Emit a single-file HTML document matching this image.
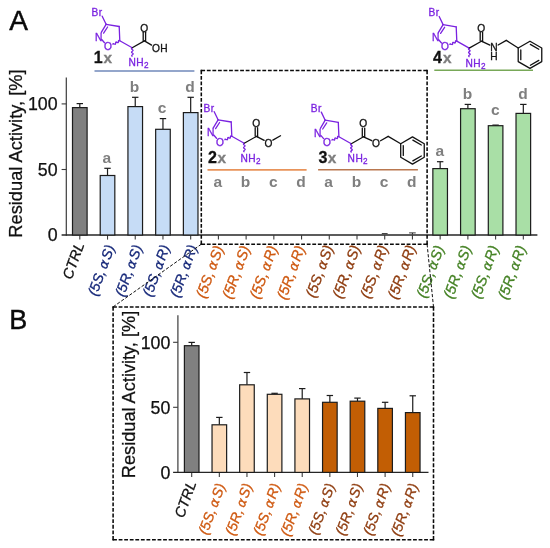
<!DOCTYPE html>
<html><head><meta charset="utf-8"><title>Figure</title>
<style>html,body{margin:0;padding:0;background:#fff}svg{display:block}text{font-family:'Liberation Sans', Arial, sans-serif}</style>
</head><body>
<svg width="550" height="548" viewBox="0 0 550 548" font-family='"Liberation Sans", Arial, sans-serif'>
<rect width="550" height="548" fill="#fff"/>
<line x1="66.30" y1="77.50" x2="66.30" y2="235.65" stroke="#3c3c3c" stroke-width="1.2" />
<line x1="61.60" y1="235.00" x2="537.40" y2="235.00" stroke="#262626" stroke-width="1.3" />
<line x1="61.60" y1="103.90" x2="66.40" y2="103.90" stroke="#3c3c3c" stroke-width="1.1" />
<line x1="61.60" y1="169.50" x2="66.40" y2="169.50" stroke="#3c3c3c" stroke-width="1.1" />
<line x1="79.80" y1="235.00" x2="79.80" y2="239.60" stroke="#3c3c3c" stroke-width="1.1" />
<line x1="107.52" y1="235.00" x2="107.52" y2="239.60" stroke="#3c3c3c" stroke-width="1.1" />
<line x1="135.24" y1="235.00" x2="135.24" y2="239.60" stroke="#3c3c3c" stroke-width="1.1" />
<line x1="162.96" y1="235.00" x2="162.96" y2="239.60" stroke="#3c3c3c" stroke-width="1.1" />
<line x1="190.68" y1="235.00" x2="190.68" y2="239.60" stroke="#3c3c3c" stroke-width="1.1" />
<line x1="218.40" y1="235.00" x2="218.40" y2="239.60" stroke="#3c3c3c" stroke-width="1.1" />
<line x1="246.12" y1="235.00" x2="246.12" y2="239.60" stroke="#3c3c3c" stroke-width="1.1" />
<line x1="273.84" y1="235.00" x2="273.84" y2="239.60" stroke="#3c3c3c" stroke-width="1.1" />
<line x1="301.56" y1="235.00" x2="301.56" y2="239.60" stroke="#3c3c3c" stroke-width="1.1" />
<line x1="329.28" y1="235.00" x2="329.28" y2="239.60" stroke="#3c3c3c" stroke-width="1.1" />
<line x1="357.00" y1="235.00" x2="357.00" y2="239.60" stroke="#3c3c3c" stroke-width="1.1" />
<line x1="384.72" y1="235.00" x2="384.72" y2="239.60" stroke="#3c3c3c" stroke-width="1.1" />
<line x1="412.44" y1="235.00" x2="412.44" y2="239.60" stroke="#3c3c3c" stroke-width="1.1" />
<line x1="440.16" y1="235.00" x2="440.16" y2="239.60" stroke="#3c3c3c" stroke-width="1.1" />
<line x1="467.88" y1="235.00" x2="467.88" y2="239.60" stroke="#3c3c3c" stroke-width="1.1" />
<line x1="495.60" y1="235.00" x2="495.60" y2="239.60" stroke="#3c3c3c" stroke-width="1.1" />
<line x1="523.32" y1="235.00" x2="523.32" y2="239.60" stroke="#3c3c3c" stroke-width="1.1" />
<text x="57.60" y="110.30" font-size="17.8" fill="#111" text-anchor="end" stroke="#111" stroke-width="0.25">100</text>
<text x="57.60" y="175.90" font-size="17.8" fill="#111" text-anchor="end" stroke="#111" stroke-width="0.25">50</text>
<text x="57.60" y="241.40" font-size="17.8" fill="#111" text-anchor="end" stroke="#111" stroke-width="0.25">0</text>
<text transform="translate(22.0,237.7) rotate(-90)" font-size="18.3" fill="#111" stroke="#111" stroke-width="0.25">Residual Activity, [%]</text>
<line x1="79.80" y1="103.60" x2="79.80" y2="107.60" stroke="#1c1c1c" stroke-width="1.2" />
<line x1="76.60" y1="103.60" x2="83.00" y2="103.60" stroke="#1c1c1c" stroke-width="1.2" />
<rect x="72.50" y="107.60" width="14.60" height="127.40" fill="#808080" stroke="#1c1c1c" stroke-width="1.2"/>
<line x1="107.52" y1="168.30" x2="107.52" y2="175.50" stroke="#1c1c1c" stroke-width="1.2" />
<line x1="104.32" y1="168.30" x2="110.72" y2="168.30" stroke="#1c1c1c" stroke-width="1.2" />
<rect x="100.22" y="175.50" width="14.60" height="59.50" fill="#c6dcf6" stroke="#1c1c1c" stroke-width="1.2"/>
<line x1="135.24" y1="97.30" x2="135.24" y2="106.60" stroke="#1c1c1c" stroke-width="1.2" />
<line x1="132.04" y1="97.30" x2="138.44" y2="97.30" stroke="#1c1c1c" stroke-width="1.2" />
<rect x="127.94" y="106.60" width="14.60" height="128.40" fill="#c6dcf6" stroke="#1c1c1c" stroke-width="1.2"/>
<line x1="162.96" y1="118.60" x2="162.96" y2="129.30" stroke="#1c1c1c" stroke-width="1.2" />
<line x1="159.76" y1="118.60" x2="166.16" y2="118.60" stroke="#1c1c1c" stroke-width="1.2" />
<rect x="155.66" y="129.30" width="14.60" height="105.70" fill="#c6dcf6" stroke="#1c1c1c" stroke-width="1.2"/>
<line x1="190.68" y1="97.30" x2="190.68" y2="112.60" stroke="#1c1c1c" stroke-width="1.2" />
<line x1="187.48" y1="97.30" x2="193.88" y2="97.30" stroke="#1c1c1c" stroke-width="1.2" />
<rect x="183.38" y="112.60" width="14.60" height="122.40" fill="#c6dcf6" stroke="#1c1c1c" stroke-width="1.2"/>
<line x1="440.16" y1="161.70" x2="440.16" y2="168.60" stroke="#1c1c1c" stroke-width="1.2" />
<line x1="436.96" y1="161.70" x2="443.36" y2="161.70" stroke="#1c1c1c" stroke-width="1.2" />
<rect x="432.86" y="168.60" width="14.60" height="66.40" fill="#a9dfa6" stroke="#1c1c1c" stroke-width="1.2"/>
<line x1="467.88" y1="104.40" x2="467.88" y2="108.70" stroke="#1c1c1c" stroke-width="1.2" />
<line x1="464.68" y1="104.40" x2="471.08" y2="104.40" stroke="#1c1c1c" stroke-width="1.2" />
<rect x="460.58" y="108.70" width="14.60" height="126.30" fill="#a9dfa6" stroke="#1c1c1c" stroke-width="1.2"/>
<line x1="495.60" y1="125.10" x2="495.60" y2="125.70" stroke="#1c1c1c" stroke-width="1.2" />
<line x1="492.40" y1="125.10" x2="498.80" y2="125.10" stroke="#1c1c1c" stroke-width="1.2" />
<rect x="488.30" y="125.70" width="14.60" height="109.30" fill="#a9dfa6" stroke="#1c1c1c" stroke-width="1.2"/>
<line x1="523.32" y1="104.40" x2="523.32" y2="113.40" stroke="#1c1c1c" stroke-width="1.2" />
<line x1="520.12" y1="104.40" x2="526.52" y2="104.40" stroke="#1c1c1c" stroke-width="1.2" />
<rect x="516.02" y="113.40" width="14.60" height="121.60" fill="#a9dfa6" stroke="#1c1c1c" stroke-width="1.2"/>
<line x1="381.82" y1="233.60" x2="387.62" y2="233.60" stroke="#1c1c1c" stroke-width="0.9" />
<line x1="409.14" y1="232.90" x2="415.74" y2="232.90" stroke="#1c1c1c" stroke-width="0.9" />
<line x1="412.44" y1="232.90" x2="412.44" y2="234.40" stroke="#1c1c1c" stroke-width="0.9" />
<text x="106.72" y="162.70" font-size="15.5" fill="#7f7f7f" text-anchor="middle" font-weight="bold" >a</text>
<text x="134.44" y="91.70" font-size="15.5" fill="#7f7f7f" text-anchor="middle" font-weight="bold" >b</text>
<text x="162.16" y="113.00" font-size="15.5" fill="#7f7f7f" text-anchor="middle" font-weight="bold" >c</text>
<text x="189.88" y="91.70" font-size="15.5" fill="#7f7f7f" text-anchor="middle" font-weight="bold" >d</text>
<text x="439.86" y="155.80" font-size="15.5" fill="#7f7f7f" text-anchor="middle" font-weight="bold" >a</text>
<text x="467.58" y="98.50" font-size="15.5" fill="#7f7f7f" text-anchor="middle" font-weight="bold" >b</text>
<text x="495.30" y="115.00" font-size="15.5" fill="#7f7f7f" text-anchor="middle" font-weight="bold" >c</text>
<text x="523.02" y="98.50" font-size="15.5" fill="#7f7f7f" text-anchor="middle" font-weight="bold" >d</text>
<text x="217.80" y="187.00" font-size="15.5" fill="#7f7f7f" text-anchor="middle" font-weight="bold" >a</text>
<text x="245.52" y="187.00" font-size="15.5" fill="#7f7f7f" text-anchor="middle" font-weight="bold" >b</text>
<text x="273.24" y="187.00" font-size="15.5" fill="#7f7f7f" text-anchor="middle" font-weight="bold" >c</text>
<text x="300.96" y="187.00" font-size="15.5" fill="#7f7f7f" text-anchor="middle" font-weight="bold" >d</text>
<text x="328.68" y="187.00" font-size="15.5" fill="#7f7f7f" text-anchor="middle" font-weight="bold" >a</text>
<text x="356.40" y="187.00" font-size="15.5" fill="#7f7f7f" text-anchor="middle" font-weight="bold" >b</text>
<text x="384.12" y="187.00" font-size="15.5" fill="#7f7f7f" text-anchor="middle" font-weight="bold" >c</text>
<text x="411.84" y="187.00" font-size="15.5" fill="#7f7f7f" text-anchor="middle" font-weight="bold" >d</text>
<text transform="translate(84.40,244.60) rotate(-70)" font-size="14.5" fill="#111" stroke="#111" stroke-width="0.3" text-anchor="end" font-style="italic">CTRL</text>
<text transform="translate(114.80,247.00) rotate(-70)" font-size="14.3" fill="#17297a" stroke="#17297a" stroke-width="0.3" text-anchor="end" font-style="italic">(5S, <tspan dx="-1.3" font-family="DejaVu Sans, sans-serif" font-size="12.9">α</tspan><tspan dx="1.3">S)</tspan></text>
<text transform="translate(142.30,247.00) rotate(-70)" font-size="14.3" fill="#17297a" stroke="#17297a" stroke-width="0.3" text-anchor="end" font-style="italic">(5R, <tspan dx="-1.3" font-family="DejaVu Sans, sans-serif" font-size="12.9">α</tspan><tspan dx="1.3">S)</tspan></text>
<text transform="translate(170.00,247.00) rotate(-70)" font-size="14.3" fill="#17297a" stroke="#17297a" stroke-width="0.3" text-anchor="end" font-style="italic">(5S, <tspan dx="-1.3" font-family="DejaVu Sans, sans-serif" font-size="12.9">α</tspan><tspan dx="1.3">R)</tspan></text>
<text transform="translate(197.50,247.00) rotate(-70)" font-size="14.3" fill="#17297a" stroke="#17297a" stroke-width="0.3" text-anchor="end" font-style="italic">(5R, <tspan dx="-1.3" font-family="DejaVu Sans, sans-serif" font-size="12.9">α</tspan><tspan dx="1.3">R)</tspan></text>
<text transform="translate(223.70,247.80) rotate(-70)" font-size="14.7" fill="#cf5a12" stroke="#cf5a12" stroke-width="0.3" text-anchor="end" font-style="italic">(5S, <tspan dx="-1.3" font-family="DejaVu Sans, sans-serif" font-size="13.2">α</tspan><tspan dx="1.3">S)</tspan></text>
<text transform="translate(250.20,247.80) rotate(-70)" font-size="14.7" fill="#cf5a12" stroke="#cf5a12" stroke-width="0.3" text-anchor="end" font-style="italic">(5R, <tspan dx="-1.3" font-family="DejaVu Sans, sans-serif" font-size="13.2">α</tspan><tspan dx="1.3">S)</tspan></text>
<text transform="translate(277.70,247.80) rotate(-70)" font-size="14.7" fill="#cf5a12" stroke="#cf5a12" stroke-width="0.3" text-anchor="end" font-style="italic">(5S, <tspan dx="-1.3" font-family="DejaVu Sans, sans-serif" font-size="13.2">α</tspan><tspan dx="1.3">R)</tspan></text>
<text transform="translate(305.10,247.80) rotate(-70)" font-size="14.7" fill="#cf5a12" stroke="#cf5a12" stroke-width="0.3" text-anchor="end" font-style="italic">(5R, <tspan dx="-1.3" font-family="DejaVu Sans, sans-serif" font-size="13.2">α</tspan><tspan dx="1.3">R)</tspan></text>
<text transform="translate(333.40,247.30) rotate(-70)" font-size="14.7" fill="#8f3d10" stroke="#8f3d10" stroke-width="0.3" text-anchor="end" font-style="italic">(5S, <tspan dx="-1.3" font-family="DejaVu Sans, sans-serif" font-size="13.2">α</tspan><tspan dx="1.3">S)</tspan></text>
<text transform="translate(360.50,247.30) rotate(-70)" font-size="14.7" fill="#8f3d10" stroke="#8f3d10" stroke-width="0.3" text-anchor="end" font-style="italic">(5R, <tspan dx="-1.3" font-family="DejaVu Sans, sans-serif" font-size="13.2">α</tspan><tspan dx="1.3">S)</tspan></text>
<text transform="translate(388.20,247.30) rotate(-70)" font-size="14.7" fill="#8f3d10" stroke="#8f3d10" stroke-width="0.3" text-anchor="end" font-style="italic">(5S, <tspan dx="-1.3" font-family="DejaVu Sans, sans-serif" font-size="13.2">α</tspan><tspan dx="1.3">R)</tspan></text>
<text transform="translate(415.90,247.30) rotate(-70)" font-size="14.7" fill="#8f3d10" stroke="#8f3d10" stroke-width="0.3" text-anchor="end" font-style="italic">(5R, <tspan dx="-1.3" font-family="DejaVu Sans, sans-serif" font-size="13.2">α</tspan><tspan dx="1.3">R)</tspan></text>
<text transform="translate(444.20,247.60) rotate(-70)" font-size="14.7" fill="#468326" stroke="#468326" stroke-width="0.3" text-anchor="end" font-style="italic">(5S, <tspan dx="-1.3" font-family="DejaVu Sans, sans-serif" font-size="13.2">α</tspan><tspan dx="1.3">S)</tspan></text>
<text transform="translate(471.40,247.60) rotate(-70)" font-size="14.7" fill="#468326" stroke="#468326" stroke-width="0.3" text-anchor="end" font-style="italic">(5R, <tspan dx="-1.3" font-family="DejaVu Sans, sans-serif" font-size="13.2">α</tspan><tspan dx="1.3">S)</tspan></text>
<text transform="translate(498.80,247.60) rotate(-70)" font-size="14.7" fill="#468326" stroke="#468326" stroke-width="0.3" text-anchor="end" font-style="italic">(5S, <tspan dx="-1.3" font-family="DejaVu Sans, sans-serif" font-size="13.2">α</tspan><tspan dx="1.3">R)</tspan></text>
<text transform="translate(526.10,247.60) rotate(-70)" font-size="14.7" fill="#468326" stroke="#468326" stroke-width="0.3" text-anchor="end" font-style="italic">(5R, <tspan dx="-1.3" font-family="DejaVu Sans, sans-serif" font-size="13.2">α</tspan><tspan dx="1.3">R)</tspan></text>
<line x1="201.30" y1="70.50" x2="427.10" y2="70.50" stroke="#0a0a0a" stroke-width="1.55" stroke-dasharray="3.800 1.75" stroke-linecap="butt"/>
<line x1="427.10" y1="70.50" x2="427.10" y2="244.20" stroke="#0a0a0a" stroke-width="1.55" stroke-dasharray="3.733 1.75" stroke-linecap="butt"/>
<line x1="427.10" y1="244.20" x2="201.30" y2="244.20" stroke="#0a0a0a" stroke-width="1.55" stroke-dasharray="3.800 1.75" stroke-linecap="butt"/>
<line x1="201.30" y1="244.20" x2="201.30" y2="70.50" stroke="#0a0a0a" stroke-width="1.55" stroke-dasharray="3.733 1.75" stroke-linecap="butt"/>
<rect x="200.53" y="69.72" width="1.55" height="1.55" fill="#0a0a0a"/>
<rect x="426.33" y="69.72" width="1.55" height="1.55" fill="#0a0a0a"/>
<rect x="426.33" y="243.42" width="1.55" height="1.55" fill="#0a0a0a"/>
<rect x="200.53" y="243.42" width="1.55" height="1.55" fill="#0a0a0a"/>
<line x1="113.10" y1="306.90" x2="433.50" y2="306.90" stroke="#0a0a0a" stroke-width="1.55" stroke-dasharray="3.804 1.75" stroke-linecap="butt"/>
<line x1="433.50" y1="306.90" x2="433.50" y2="539.80" stroke="#0a0a0a" stroke-width="1.55" stroke-dasharray="3.837 1.75" stroke-linecap="butt"/>
<line x1="433.50" y1="539.80" x2="113.10" y2="539.80" stroke="#0a0a0a" stroke-width="1.55" stroke-dasharray="3.804 1.75" stroke-linecap="butt"/>
<line x1="113.10" y1="539.80" x2="113.10" y2="306.90" stroke="#0a0a0a" stroke-width="1.55" stroke-dasharray="3.837 1.75" stroke-linecap="butt"/>
<rect x="112.32" y="306.12" width="1.55" height="1.55" fill="#0a0a0a"/>
<rect x="432.73" y="306.12" width="1.55" height="1.55" fill="#0a0a0a"/>
<rect x="432.73" y="539.02" width="1.55" height="1.55" fill="#0a0a0a"/>
<rect x="112.32" y="539.02" width="1.55" height="1.55" fill="#0a0a0a"/>
<line x1="201.30" y1="244.20" x2="113.10" y2="306.90" stroke="#111" stroke-width="1.0" stroke-dasharray="3.2 1.8"/>
<line x1="427.10" y1="244.20" x2="433.50" y2="306.90" stroke="#111" stroke-width="1.0" stroke-dasharray="3.2 1.8"/>
<line x1="102.20" y1="16.20" x2="106.10" y2="24.30" stroke="#7a22e0" stroke-width="1.3" stroke-linecap="round"/>
<line x1="106.10" y1="24.30" x2="101.30" y2="32.40" stroke="#7a22e0" stroke-width="1.3" stroke-linecap="round"/>
<line x1="107.60" y1="27.00" x2="103.60" y2="33.10" stroke="#7a22e0" stroke-width="1.3" stroke-linecap="round"/>
<line x1="106.10" y1="24.30" x2="119.20" y2="26.50" stroke="#7a22e0" stroke-width="1.3" stroke-linecap="round"/>
<line x1="119.20" y1="26.50" x2="119.80" y2="40.80" stroke="#7a22e0" stroke-width="1.3" stroke-linecap="round"/>
<path d="M119.80,40.80 Q118.32,39.80 118.42,41.58 Q118.52,43.36 117.04,42.36 Q115.56,41.36 115.66,43.14 Q115.76,44.92 114.28,43.92 Q112.80,42.92 112.90,44.70" fill="none" stroke="#7a22e0" stroke-width="1.3"/>
<line x1="101.70" y1="39.50" x2="104.50" y2="42.70" stroke="#7a22e0" stroke-width="1.3" stroke-linecap="round"/>
<line x1="119.80" y1="40.80" x2="132.20" y2="47.80" stroke="#7a22e0" stroke-width="1.3" stroke-linecap="round"/>
<line x1="132.20" y1="47.80" x2="144.40" y2="40.90" stroke="#111" stroke-width="1.3" stroke-linecap="round"/>
<line x1="143.20" y1="40.50" x2="143.20" y2="32.20" stroke="#111" stroke-width="1.3" stroke-linecap="round"/>
<line x1="145.60" y1="41.30" x2="145.60" y2="32.20" stroke="#111" stroke-width="1.3" stroke-linecap="round"/>
<path d="M132.20,47.80 Q130.63,48.73 132.26,49.54 Q133.89,50.35 132.32,51.28 Q130.75,52.21 132.38,53.02 Q134.01,53.83 132.44,54.76 Q130.87,55.69 132.50,56.50" fill="none" stroke="#7a22e0" stroke-width="1.3"/>
<text x="91.60" y="16.00" font-size="10.2" fill="#7a22e0" stroke="#7a22e0" stroke-width="0.3" letter-spacing="0.4">Br</text>
<text x="107.90" y="50.05" font-size="10.2" fill="#7a22e0" text-anchor="middle" stroke="#7a22e0" stroke-width="0.3">O</text>
<text x="98.60" y="40.75" font-size="10.2" fill="#7a22e0" text-anchor="middle" stroke="#7a22e0" stroke-width="0.3">N</text>
<text x="144.20" y="31.55" font-size="10.2" fill="#111" text-anchor="middle" stroke="#111" stroke-width="0.3">O</text>
<text x="128.40" y="66.20" font-size="10.2" fill="#7a22e0" stroke="#7a22e0" stroke-width="0.3" letter-spacing="0.6">NH<tspan font-size="8.2" dy="2.2" dx="-0.3">2</tspan></text>
<text x="93.80" y="62.70" font-size="16.0" fill="#111" font-weight="bold" stroke="#111" stroke-width="0.3">1</text>
<text x="103.40" y="62.70" font-size="15.4" fill="#7d7d7d" font-weight="bold" stroke="#7d7d7d" stroke-width="0.3">x</text>
<line x1="94.50" y1="71.00" x2="194.40" y2="71.00" stroke="#7189ba" stroke-width="1.6" />
<line x1="144.40" y1="40.90" x2="151.60" y2="45.10" stroke="#111" stroke-width="1.3" stroke-linecap="round"/>
<text x="152.00" y="51.70" font-size="10.2" fill="#111" stroke="#111" stroke-width="0.3" letter-spacing="0.4">OH</text>
<line x1="214.20" y1="111.70" x2="218.10" y2="119.80" stroke="#7a22e0" stroke-width="1.3" stroke-linecap="round"/>
<line x1="218.10" y1="119.80" x2="213.30" y2="127.90" stroke="#7a22e0" stroke-width="1.3" stroke-linecap="round"/>
<line x1="219.60" y1="122.50" x2="215.60" y2="128.60" stroke="#7a22e0" stroke-width="1.3" stroke-linecap="round"/>
<line x1="218.10" y1="119.80" x2="231.20" y2="122.00" stroke="#7a22e0" stroke-width="1.3" stroke-linecap="round"/>
<line x1="231.20" y1="122.00" x2="231.80" y2="136.30" stroke="#7a22e0" stroke-width="1.3" stroke-linecap="round"/>
<path d="M231.80,136.30 Q230.32,135.30 230.42,137.08 Q230.52,138.86 229.04,137.86 Q227.56,136.86 227.66,138.64 Q227.76,140.42 226.28,139.42 Q224.80,138.42 224.90,140.20" fill="none" stroke="#7a22e0" stroke-width="1.3"/>
<line x1="213.70" y1="135.00" x2="216.50" y2="138.20" stroke="#7a22e0" stroke-width="1.3" stroke-linecap="round"/>
<line x1="231.80" y1="136.30" x2="244.20" y2="143.30" stroke="#7a22e0" stroke-width="1.3" stroke-linecap="round"/>
<line x1="244.20" y1="143.30" x2="256.40" y2="136.40" stroke="#111" stroke-width="1.3" stroke-linecap="round"/>
<line x1="255.20" y1="136.00" x2="255.20" y2="127.70" stroke="#111" stroke-width="1.3" stroke-linecap="round"/>
<line x1="257.60" y1="136.80" x2="257.60" y2="127.70" stroke="#111" stroke-width="1.3" stroke-linecap="round"/>
<path d="M244.20,143.30 Q242.63,144.23 244.26,145.04 Q245.89,145.85 244.32,146.78 Q242.75,147.71 244.38,148.52 Q246.01,149.33 244.44,150.26 Q242.87,151.19 244.50,152.00" fill="none" stroke="#7a22e0" stroke-width="1.3"/>
<text x="203.60" y="111.50" font-size="10.2" fill="#7a22e0" stroke="#7a22e0" stroke-width="0.3" letter-spacing="0.4">Br</text>
<text x="219.90" y="145.55" font-size="10.2" fill="#7a22e0" text-anchor="middle" stroke="#7a22e0" stroke-width="0.3">O</text>
<text x="210.60" y="136.25" font-size="10.2" fill="#7a22e0" text-anchor="middle" stroke="#7a22e0" stroke-width="0.3">N</text>
<text x="256.20" y="127.05" font-size="10.2" fill="#111" text-anchor="middle" stroke="#111" stroke-width="0.3">O</text>
<text x="240.40" y="161.70" font-size="10.2" fill="#7a22e0" stroke="#7a22e0" stroke-width="0.3" letter-spacing="0.6">NH<tspan font-size="8.2" dy="2.2" dx="-0.3">2</tspan></text>
<text x="208.00" y="162.80" font-size="16.0" fill="#111" font-weight="bold" stroke="#111" stroke-width="0.3">2</text>
<text x="217.60" y="162.80" font-size="15.4" fill="#7d7d7d" font-weight="bold" stroke="#7d7d7d" stroke-width="0.3">x</text>
<line x1="207.50" y1="169.90" x2="306.60" y2="169.90" stroke="#e8935a" stroke-width="1.6" />
<line x1="256.40" y1="136.40" x2="264.20" y2="140.30" stroke="#111" stroke-width="1.3" stroke-linecap="round"/>
<text x="268.40" y="146.65" font-size="10.2" fill="#111" text-anchor="middle" stroke="#111" stroke-width="0.3">O</text>
<line x1="272.80" y1="140.10" x2="280.50" y2="135.70" stroke="#111" stroke-width="1.3" stroke-linecap="round"/>
<line x1="321.30" y1="112.10" x2="325.20" y2="120.20" stroke="#7a22e0" stroke-width="1.3" stroke-linecap="round"/>
<line x1="325.20" y1="120.20" x2="320.40" y2="128.30" stroke="#7a22e0" stroke-width="1.3" stroke-linecap="round"/>
<line x1="326.70" y1="122.90" x2="322.70" y2="129.00" stroke="#7a22e0" stroke-width="1.3" stroke-linecap="round"/>
<line x1="325.20" y1="120.20" x2="338.30" y2="122.40" stroke="#7a22e0" stroke-width="1.3" stroke-linecap="round"/>
<line x1="338.30" y1="122.40" x2="338.90" y2="136.70" stroke="#7a22e0" stroke-width="1.3" stroke-linecap="round"/>
<path d="M338.90,136.70 Q337.42,135.70 337.52,137.48 Q337.62,139.26 336.14,138.26 Q334.66,137.26 334.76,139.04 Q334.86,140.82 333.38,139.82 Q331.90,138.82 332.00,140.60" fill="none" stroke="#7a22e0" stroke-width="1.3"/>
<line x1="320.80" y1="135.40" x2="323.60" y2="138.60" stroke="#7a22e0" stroke-width="1.3" stroke-linecap="round"/>
<line x1="338.90" y1="136.70" x2="351.30" y2="143.70" stroke="#7a22e0" stroke-width="1.3" stroke-linecap="round"/>
<line x1="351.30" y1="143.70" x2="363.50" y2="136.80" stroke="#111" stroke-width="1.3" stroke-linecap="round"/>
<line x1="362.30" y1="136.40" x2="362.30" y2="128.10" stroke="#111" stroke-width="1.3" stroke-linecap="round"/>
<line x1="364.70" y1="137.20" x2="364.70" y2="128.10" stroke="#111" stroke-width="1.3" stroke-linecap="round"/>
<path d="M351.30,143.70 Q349.73,144.63 351.36,145.44 Q352.99,146.25 351.42,147.18 Q349.85,148.11 351.48,148.92 Q353.11,149.73 351.54,150.66 Q349.97,151.59 351.60,152.40" fill="none" stroke="#7a22e0" stroke-width="1.3"/>
<text x="310.70" y="111.90" font-size="10.2" fill="#7a22e0" stroke="#7a22e0" stroke-width="0.3" letter-spacing="0.4">Br</text>
<text x="327.00" y="145.95" font-size="10.2" fill="#7a22e0" text-anchor="middle" stroke="#7a22e0" stroke-width="0.3">O</text>
<text x="317.70" y="136.65" font-size="10.2" fill="#7a22e0" text-anchor="middle" stroke="#7a22e0" stroke-width="0.3">N</text>
<text x="363.30" y="127.45" font-size="10.2" fill="#111" text-anchor="middle" stroke="#111" stroke-width="0.3">O</text>
<text x="347.50" y="162.10" font-size="10.2" fill="#7a22e0" stroke="#7a22e0" stroke-width="0.3" letter-spacing="0.6">NH<tspan font-size="8.2" dy="2.2" dx="-0.3">2</tspan></text>
<text x="318.50" y="162.80" font-size="16.0" fill="#111" font-weight="bold" stroke="#111" stroke-width="0.3">3</text>
<text x="327.80" y="162.80" font-size="15.4" fill="#7d7d7d" font-weight="bold" stroke="#7d7d7d" stroke-width="0.3">x</text>
<line x1="318.10" y1="169.80" x2="417.90" y2="169.80" stroke="#b9774f" stroke-width="1.6" />
<line x1="363.50" y1="136.80" x2="371.80" y2="140.70" stroke="#111" stroke-width="1.3" stroke-linecap="round"/>
<text x="376.00" y="147.05" font-size="10.2" fill="#111" text-anchor="middle" stroke="#111" stroke-width="0.3">O</text>
<line x1="380.50" y1="140.70" x2="388.20" y2="136.40" stroke="#111" stroke-width="1.3" stroke-linecap="round"/>
<line x1="388.20" y1="136.40" x2="400.70" y2="143.70" stroke="#111" stroke-width="1.3" stroke-linecap="round"/>
<polygon points="400.70,143.70 412.48,136.90 424.26,143.70 424.26,157.30 412.48,164.10 400.70,157.30" fill="none" stroke="#111" stroke-width="1.3" stroke-linejoin="round"/>
<line x1="412.85" y1="140.10" x2="421.30" y2="144.98" stroke="#111" stroke-width="1.3" stroke-linecap="round"/>
<line x1="421.30" y1="156.02" x2="412.85" y2="160.90" stroke="#111" stroke-width="1.3" stroke-linecap="round"/>
<line x1="403.29" y1="155.38" x2="403.29" y2="145.62" stroke="#111" stroke-width="1.3" stroke-linecap="round"/>
<line x1="439.20" y1="16.50" x2="443.10" y2="24.60" stroke="#7a22e0" stroke-width="1.3" stroke-linecap="round"/>
<line x1="443.10" y1="24.60" x2="438.30" y2="32.70" stroke="#7a22e0" stroke-width="1.3" stroke-linecap="round"/>
<line x1="444.60" y1="27.30" x2="440.60" y2="33.40" stroke="#7a22e0" stroke-width="1.3" stroke-linecap="round"/>
<line x1="443.10" y1="24.60" x2="456.20" y2="26.80" stroke="#7a22e0" stroke-width="1.3" stroke-linecap="round"/>
<line x1="456.20" y1="26.80" x2="456.80" y2="41.10" stroke="#7a22e0" stroke-width="1.3" stroke-linecap="round"/>
<path d="M456.80,41.10 Q455.32,40.10 455.42,41.88 Q455.52,43.66 454.04,42.66 Q452.56,41.66 452.66,43.44 Q452.76,45.22 451.28,44.22 Q449.80,43.22 449.90,45.00" fill="none" stroke="#7a22e0" stroke-width="1.3"/>
<line x1="438.70" y1="39.80" x2="441.50" y2="43.00" stroke="#7a22e0" stroke-width="1.3" stroke-linecap="round"/>
<line x1="456.80" y1="41.10" x2="469.20" y2="48.10" stroke="#7a22e0" stroke-width="1.3" stroke-linecap="round"/>
<line x1="469.20" y1="48.10" x2="481.40" y2="41.20" stroke="#111" stroke-width="1.3" stroke-linecap="round"/>
<line x1="480.20" y1="40.80" x2="480.20" y2="32.50" stroke="#111" stroke-width="1.3" stroke-linecap="round"/>
<line x1="482.60" y1="41.60" x2="482.60" y2="32.50" stroke="#111" stroke-width="1.3" stroke-linecap="round"/>
<path d="M469.20,48.10 Q467.63,49.03 469.26,49.84 Q470.89,50.65 469.32,51.58 Q467.75,52.51 469.38,53.32 Q471.01,54.13 469.44,55.06 Q467.87,55.99 469.50,56.80" fill="none" stroke="#7a22e0" stroke-width="1.3"/>
<text x="428.60" y="16.30" font-size="10.2" fill="#7a22e0" stroke="#7a22e0" stroke-width="0.3" letter-spacing="0.4">Br</text>
<text x="444.90" y="50.35" font-size="10.2" fill="#7a22e0" text-anchor="middle" stroke="#7a22e0" stroke-width="0.3">O</text>
<text x="435.60" y="41.05" font-size="10.2" fill="#7a22e0" text-anchor="middle" stroke="#7a22e0" stroke-width="0.3">N</text>
<text x="481.20" y="31.85" font-size="10.2" fill="#111" text-anchor="middle" stroke="#111" stroke-width="0.3">O</text>
<text x="465.40" y="66.50" font-size="10.2" fill="#7a22e0" stroke="#7a22e0" stroke-width="0.3" letter-spacing="0.6">NH<tspan font-size="8.2" dy="2.2" dx="-0.3">2</tspan></text>
<text x="432.90" y="63.40" font-size="16.0" fill="#111" font-weight="bold" stroke="#111" stroke-width="0.3">4</text>
<text x="442.90" y="63.40" font-size="15.4" fill="#7d7d7d" font-weight="bold" stroke="#7d7d7d" stroke-width="0.3">x</text>
<line x1="434.30" y1="70.30" x2="533.00" y2="70.30" stroke="#78a858" stroke-width="1.6" />
<line x1="481.40" y1="41.20" x2="489.90" y2="45.10" stroke="#111" stroke-width="1.3" stroke-linecap="round"/>
<text x="494.00" y="51.25" font-size="10.2" fill="#111" text-anchor="middle" stroke="#111" stroke-width="0.3">N</text>
<text x="494.00" y="60.25" font-size="10.2" fill="#111" text-anchor="middle" stroke="#111" stroke-width="0.3">H</text>
<line x1="498.10" y1="45.00" x2="506.30" y2="40.40" stroke="#111" stroke-width="1.3" stroke-linecap="round"/>
<line x1="506.30" y1="40.40" x2="518.20" y2="48.00" stroke="#111" stroke-width="1.3" stroke-linecap="round"/>
<polygon points="518.20,48.00 529.98,41.20 541.76,48.00 541.76,61.60 529.98,68.40 518.20,61.60" fill="none" stroke="#111" stroke-width="1.3" stroke-linejoin="round"/>
<line x1="530.35" y1="44.40" x2="538.80" y2="49.28" stroke="#111" stroke-width="1.3" stroke-linecap="round"/>
<line x1="538.80" y1="60.32" x2="530.35" y2="65.20" stroke="#111" stroke-width="1.3" stroke-linecap="round"/>
<line x1="520.79" y1="59.68" x2="520.79" y2="49.92" stroke="#111" stroke-width="1.3" stroke-linecap="round"/>
<text x="9.30" y="29.90" font-size="28.1" fill="#0a0a0a" stroke="#0a0a0a" stroke-width="0.45">A</text>
<text x="9.20" y="328.90" font-size="27" fill="#0a0a0a" stroke="#0a0a0a" stroke-width="0.45">B</text>
<line x1="177.90" y1="315.30" x2="177.90" y2="473.05" stroke="#3c3c3c" stroke-width="1.2" />
<line x1="173.10" y1="472.40" x2="428.50" y2="472.40" stroke="#262626" stroke-width="1.3" />
<line x1="173.10" y1="342.30" x2="177.90" y2="342.30" stroke="#3c3c3c" stroke-width="1.1" />
<line x1="173.10" y1="407.30" x2="177.90" y2="407.30" stroke="#3c3c3c" stroke-width="1.1" />
<line x1="191.70" y1="472.40" x2="191.70" y2="477.00" stroke="#3c3c3c" stroke-width="1.1" />
<line x1="219.33" y1="472.40" x2="219.33" y2="477.00" stroke="#3c3c3c" stroke-width="1.1" />
<line x1="246.96" y1="472.40" x2="246.96" y2="477.00" stroke="#3c3c3c" stroke-width="1.1" />
<line x1="274.59" y1="472.40" x2="274.59" y2="477.00" stroke="#3c3c3c" stroke-width="1.1" />
<line x1="302.22" y1="472.40" x2="302.22" y2="477.00" stroke="#3c3c3c" stroke-width="1.1" />
<line x1="329.85" y1="472.40" x2="329.85" y2="477.00" stroke="#3c3c3c" stroke-width="1.1" />
<line x1="357.48" y1="472.40" x2="357.48" y2="477.00" stroke="#3c3c3c" stroke-width="1.1" />
<line x1="385.11" y1="472.40" x2="385.11" y2="477.00" stroke="#3c3c3c" stroke-width="1.1" />
<line x1="412.74" y1="472.40" x2="412.74" y2="477.00" stroke="#3c3c3c" stroke-width="1.1" />
<text x="170.40" y="348.70" font-size="17.8" fill="#111" text-anchor="end" stroke="#111" stroke-width="0.25">100</text>
<text x="170.40" y="413.70" font-size="17.8" fill="#111" text-anchor="end" stroke="#111" stroke-width="0.25">50</text>
<text x="170.40" y="478.80" font-size="17.8" fill="#111" text-anchor="end" stroke="#111" stroke-width="0.25">0</text>
<text transform="translate(134.7,478.2) rotate(-90)" font-size="18.2" fill="#111" stroke="#111" stroke-width="0.25">Residual Activity, [%]</text>
<line x1="191.70" y1="342.40" x2="191.70" y2="345.70" stroke="#1c1c1c" stroke-width="1.2" />
<line x1="188.50" y1="342.40" x2="194.90" y2="342.40" stroke="#1c1c1c" stroke-width="1.2" />
<rect x="184.40" y="345.70" width="14.60" height="126.70" fill="#808080" stroke="#1c1c1c" stroke-width="1.2"/>
<line x1="219.33" y1="417.40" x2="219.33" y2="424.80" stroke="#1c1c1c" stroke-width="1.2" />
<line x1="216.13" y1="417.40" x2="222.53" y2="417.40" stroke="#1c1c1c" stroke-width="1.2" />
<rect x="212.03" y="424.80" width="14.60" height="47.60" fill="#fddcbb" stroke="#1c1c1c" stroke-width="1.2"/>
<line x1="246.96" y1="372.50" x2="246.96" y2="384.80" stroke="#1c1c1c" stroke-width="1.2" />
<line x1="243.76" y1="372.50" x2="250.16" y2="372.50" stroke="#1c1c1c" stroke-width="1.2" />
<rect x="239.66" y="384.80" width="14.60" height="87.60" fill="#fddcbb" stroke="#1c1c1c" stroke-width="1.2"/>
<line x1="274.59" y1="393.30" x2="274.59" y2="394.30" stroke="#1c1c1c" stroke-width="1.2" />
<line x1="271.39" y1="393.30" x2="277.79" y2="393.30" stroke="#1c1c1c" stroke-width="1.2" />
<rect x="267.29" y="394.30" width="14.60" height="78.10" fill="#fddcbb" stroke="#1c1c1c" stroke-width="1.2"/>
<line x1="302.22" y1="388.60" x2="302.22" y2="398.90" stroke="#1c1c1c" stroke-width="1.2" />
<line x1="299.02" y1="388.60" x2="305.42" y2="388.60" stroke="#1c1c1c" stroke-width="1.2" />
<rect x="294.92" y="398.90" width="14.60" height="73.50" fill="#fddcbb" stroke="#1c1c1c" stroke-width="1.2"/>
<line x1="329.85" y1="395.50" x2="329.85" y2="402.30" stroke="#1c1c1c" stroke-width="1.2" />
<line x1="326.65" y1="395.50" x2="333.05" y2="395.50" stroke="#1c1c1c" stroke-width="1.2" />
<rect x="322.55" y="402.30" width="14.60" height="70.10" fill="#c25e04" stroke="#1c1c1c" stroke-width="1.2"/>
<line x1="357.48" y1="398.10" x2="357.48" y2="401.20" stroke="#1c1c1c" stroke-width="1.2" />
<line x1="354.28" y1="398.10" x2="360.68" y2="398.10" stroke="#1c1c1c" stroke-width="1.2" />
<rect x="350.18" y="401.20" width="14.60" height="71.20" fill="#c25e04" stroke="#1c1c1c" stroke-width="1.2"/>
<line x1="385.11" y1="402.30" x2="385.11" y2="408.40" stroke="#1c1c1c" stroke-width="1.2" />
<line x1="381.91" y1="402.30" x2="388.31" y2="402.30" stroke="#1c1c1c" stroke-width="1.2" />
<rect x="377.81" y="408.40" width="14.60" height="64.00" fill="#c25e04" stroke="#1c1c1c" stroke-width="1.2"/>
<line x1="412.74" y1="395.80" x2="412.74" y2="412.60" stroke="#1c1c1c" stroke-width="1.2" />
<line x1="409.54" y1="395.80" x2="415.94" y2="395.80" stroke="#1c1c1c" stroke-width="1.2" />
<rect x="405.44" y="412.60" width="14.60" height="59.80" fill="#c25e04" stroke="#1c1c1c" stroke-width="1.2"/>
<text transform="translate(196.40,483.20) rotate(-70)" font-size="14.5" fill="#111" stroke="#111" stroke-width="0.3" text-anchor="end" font-style="italic">CTRL</text>
<text transform="translate(225.30,485.60) rotate(-70)" font-size="14.3" fill="#cf5a12" stroke="#cf5a12" stroke-width="0.3" text-anchor="end" font-style="italic">(5S, <tspan dx="-1.3" font-family="DejaVu Sans, sans-serif" font-size="12.9">α</tspan><tspan dx="1.3">S)</tspan></text>
<text transform="translate(252.50,485.60) rotate(-70)" font-size="14.3" fill="#cf5a12" stroke="#cf5a12" stroke-width="0.3" text-anchor="end" font-style="italic">(5R, <tspan dx="-1.3" font-family="DejaVu Sans, sans-serif" font-size="12.9">α</tspan><tspan dx="1.3">S)</tspan></text>
<text transform="translate(280.50,485.60) rotate(-70)" font-size="14.3" fill="#cf5a12" stroke="#cf5a12" stroke-width="0.3" text-anchor="end" font-style="italic">(5S, <tspan dx="-1.3" font-family="DejaVu Sans, sans-serif" font-size="12.9">α</tspan><tspan dx="1.3">R)</tspan></text>
<text transform="translate(308.00,485.60) rotate(-70)" font-size="14.3" fill="#cf5a12" stroke="#cf5a12" stroke-width="0.3" text-anchor="end" font-style="italic">(5R, <tspan dx="-1.3" font-family="DejaVu Sans, sans-serif" font-size="12.9">α</tspan><tspan dx="1.3">R)</tspan></text>
<text transform="translate(335.20,485.60) rotate(-70)" font-size="14.3" fill="#8f3d10" stroke="#8f3d10" stroke-width="0.3" text-anchor="end" font-style="italic">(5S, <tspan dx="-1.3" font-family="DejaVu Sans, sans-serif" font-size="12.9">α</tspan><tspan dx="1.3">S)</tspan></text>
<text transform="translate(362.70,485.60) rotate(-70)" font-size="14.3" fill="#8f3d10" stroke="#8f3d10" stroke-width="0.3" text-anchor="end" font-style="italic">(5R, <tspan dx="-1.3" font-family="DejaVu Sans, sans-serif" font-size="12.9">α</tspan><tspan dx="1.3">S)</tspan></text>
<text transform="translate(390.40,485.60) rotate(-70)" font-size="14.3" fill="#8f3d10" stroke="#8f3d10" stroke-width="0.3" text-anchor="end" font-style="italic">(5S, <tspan dx="-1.3" font-family="DejaVu Sans, sans-serif" font-size="12.9">α</tspan><tspan dx="1.3">R)</tspan></text>
<text transform="translate(418.40,485.60) rotate(-70)" font-size="14.3" fill="#8f3d10" stroke="#8f3d10" stroke-width="0.3" text-anchor="end" font-style="italic">(5R, <tspan dx="-1.3" font-family="DejaVu Sans, sans-serif" font-size="12.9">α</tspan><tspan dx="1.3">R)</tspan></text>
</svg>
</body></html>
